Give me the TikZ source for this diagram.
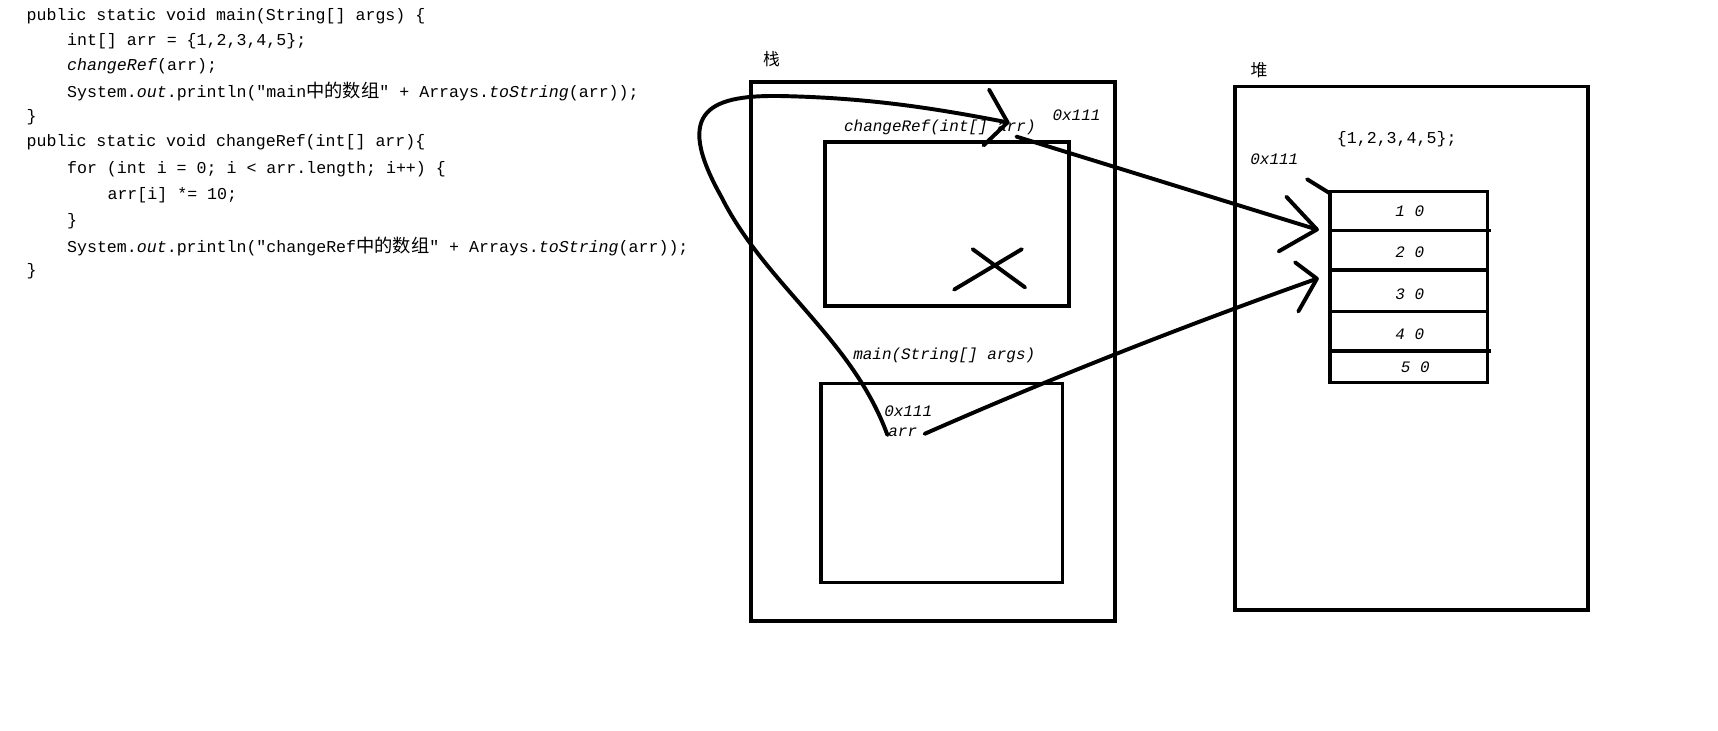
\documentclass[tikz,border=0pt]{standalone}
\usepackage{fontspec}
\setmainfont{Liberation Serif}
\setmonofont{Liberation Mono}
\newfontfamily\cjk[Scale=1.1]{Noto Sans CJK SC}
\begin{document}
\begin{tikzpicture}[x=0.5pt,y=-0.5pt,
  code/.style={anchor=west,inner sep=0pt,font=\ttfamily\fontsize{7.6}{8}\selectfont},
  lbl/.style={inner sep=0pt,font=\ttfamily\itshape\fontsize{7.3}{8}\selectfont},
  box/.style={draw,line width=1.6pt},
  pen/.style={line width=1.8pt,line cap=round,line join=round}]
\useasboundingbox[fill=white] (0,0) rectangle (1572,668);
\node[code] (c1) at (24,15) {public static void main(String[] args) \{};
\node[code] (c2) at (61,38) {int[] arr = \{1,2,3,4,5\};};
\node[code] (c3) at (61,61) {\textit{changeRef}(arr);};
\node[code] (c4) at (61,84) {System.\textit{out}.println("main{\cjk 中的数组}" + Arrays.\textit{toString}(arr));};
\node[code] (c5) at (24,107) {\}};
\node[code] (c6) at (24,130) {public static void changeRef(int[] arr)\{};
\node[code] (c7) at (61,155) {for (int i = 0; i < arr.length; i++) \{};
\node[code] (c8) at (98,179) {arr[i] *= 10;};
\node[code] (c9) at (61,202) {\}};
\node[code] (c10) at (61,226) {System.\textit{out}.println("changeRef{\cjk 中的数组}" + Arrays.\textit{toString}(arr));};
\node[code] (c11) at (24,248) {\}};
% stack
\node[lbl] (zl) at (706,54) {\cjk\fontsize{7}{8}\selectfont 栈};
\draw[box] (687,75) rectangle (1020,568);
\node[lbl] (cr) at (860,117) {changeRef(int[] arr)};
\node[lbl] (a1) at (985,105) {0x111};
\draw[box] (755,130) rectangle (978,280);
\draw[pen] (873,265) -- (935,228) (890,228) -- (938,263);
\node[lbl] (ml) at (864,325) {main(String[] args)};
\draw[box] (751,351) rectangle (972,533);
\node[lbl] (a2) at (831,376) {0x111};
\node[lbl] (arr) at (826,396) {arr};
% heap
\node[lbl] (dl) at (1152,64) {\cjk\fontsize{7}{8}\selectfont 堆};
\draw[box] (1130,79) rectangle (1453,558);
\node[code,anchor=center] (val) at (1278,127) {\{1,2,3,4,5\};};
\node[lbl] (a3) at (1166,146) {0x111};
\draw[box] (1217,175) rectangle (1361,350);
\draw[box] (1217,211) -- (1364,211) (1217,247) -- (1361,247) (1217,285) -- (1361,285) (1217,321) -- (1364,321);
\node[lbl] (v1) at (1290,193) {1 0};
\node[lbl] (v2) at (1290,231) {2 0};
\node[lbl] (v3) at (1290,269) {3 0};
\node[lbl] (v4) at (1290,306) {4 0};
\node[lbl] (v5) at (1295,336) {5 0};
\draw[pen] (1196,164) -- (1217,177);
% arrows
\coordinate (h1) at (1205,210);
\coordinate (h2) at (1205,255);
\draw[pen] (930,125) -- (h1);
\draw[pen] (1177,180) -- (h1) -- (1170,230);
\draw[pen] (846,397) .. controls (930,360) and (1050,310) .. (h2);
\draw[pen] (1185,240) -- (h2) -- (1188,285);
\coordinate (h3) at (922,112);
\draw[pen] (812,398) .. controls (780,310) and (700,260) .. (660,180)
   .. controls (615,100) and (650,86) .. (720,88)
   .. controls (800,90) and (860,100) .. (h3);
\draw[pen] (905,82) -- (h3) -- (900,133);
\end{tikzpicture}
\end{document}
